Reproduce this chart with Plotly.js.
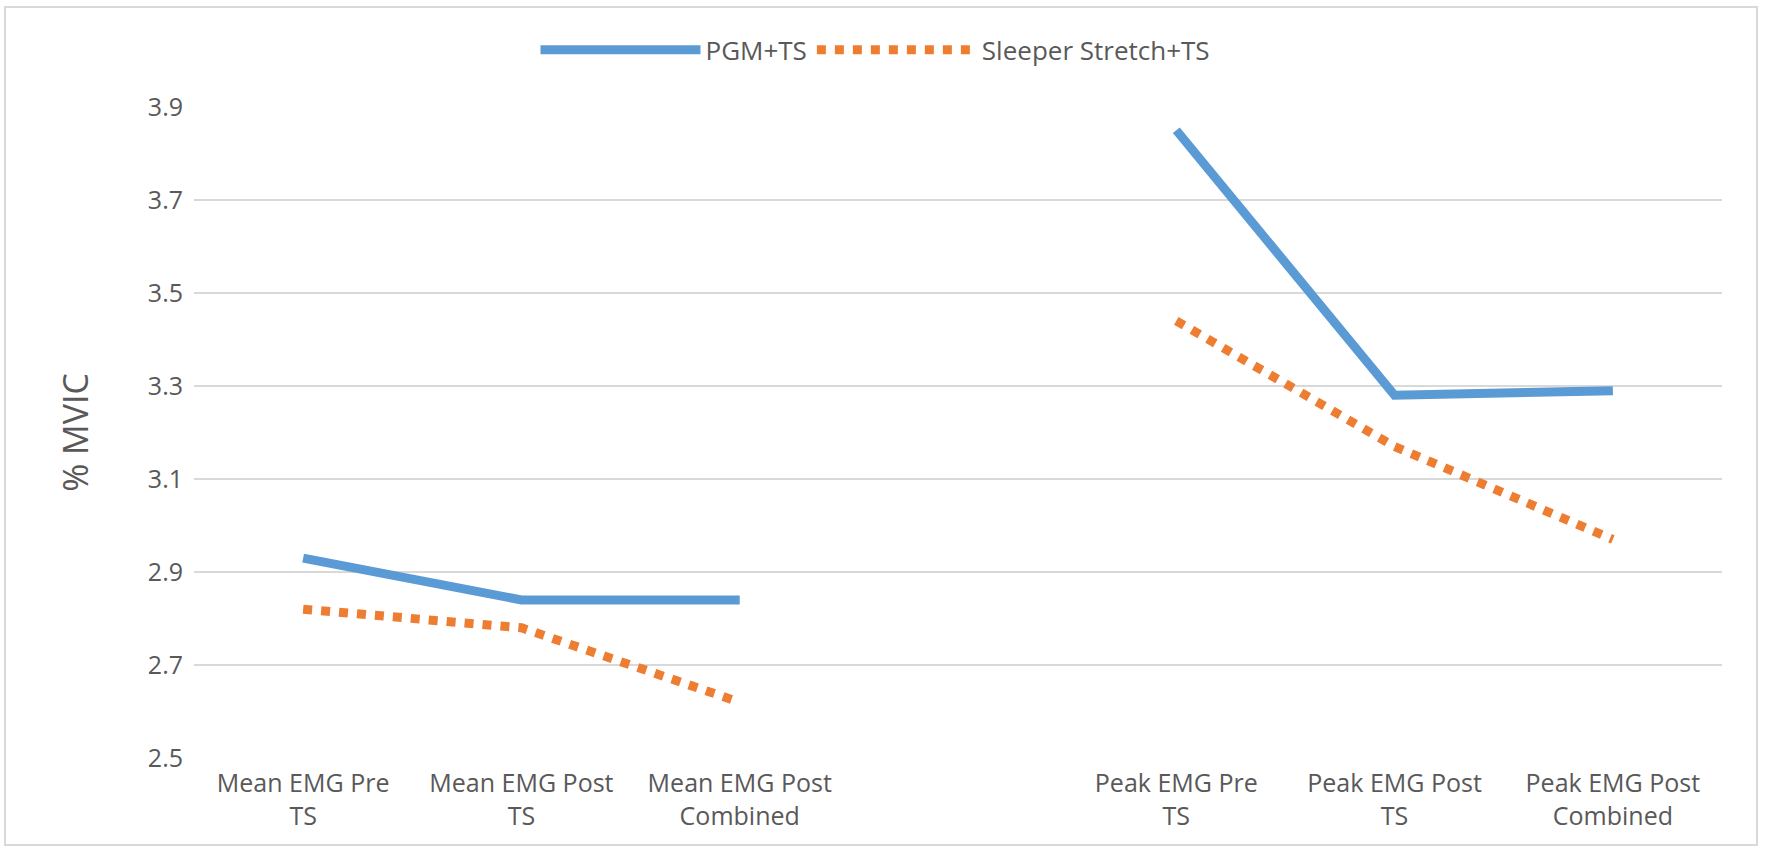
<!DOCTYPE html>
<html>
<head>
<meta charset="utf-8">
<script src="https://cdn.plot.ly/plotly-3.0.1.min.js"></script>
<style>
  html, body { margin: 0; padding: 0; background: #ffffff; }
  #chart { width: 1765px; height: 852px; }
</style>
</head>
<body>
<div id="chart"></div>
<script>
// categories (the blank one is the gap between the Mean and Peak groups)
const categories = [
    "Mean EMG Pre<br>TS",
    "Mean EMG Post<br>TS",
    "Mean EMG Post<br>Combined",
    " ",
    "Peak EMG Pre<br>TS",
    "Peak EMG Post<br>TS",
    "Peak EMG Post<br>Combined"
];
const pgmValues = [2.93, 2.84, 2.84, null, 3.85, 3.28, 3.29];
const sleeperValues = [2.82, 2.78, 2.62, null, 3.44, 3.17, 2.97];
const yTicks = [2.5, 2.7, 2.9, 3.1, 3.3, 3.5, 3.7, 3.9];

const textColor = "#595959";
const gridColor = "#d9d9d9";
const fontFamily = "'Open Sans', 'Noto Sans', sans-serif";

const tracePgm = {
    x: categories,
    y: pgmValues,
    name: "PGM+TS",
    type: "scatter",
    mode: "lines",
    connectgaps: false,
    line: { color: "#5b9bd5", width: 9 },
    hoverinfo: "skip"
};

const traceSleeper = {
    x: categories,
    y: sleeperValues,
    name: "Sleeper Stretch+TS",
    type: "scatter",
    mode: "lines",
    connectgaps: false,
    line: { color: "#ed7d31", width: 9, dash: "dot" },
    hoverinfo: "skip"
};

const layout = {
    width: 1765,
    height: 852,
    paper_bgcolor: "#ffffff",
    plot_bgcolor: "#ffffff",
    font: { family: fontFamily, color: textColor, size: 25 },
    margin: { l: 194, r: 43, t: 107, b: 94 },
    showlegend: true,
    legend: {
        orientation: "h",
        x: 0.446,
        xanchor: "center",
        y: 1.0876,
        yanchor: "middle",
        itemwidth: 160,
        font: { family: fontFamily, color: textColor, size: 26 },
        bgcolor: "rgba(0,0,0,0)"
    },
    xaxis: {
        type: "category",
        categoryorder: "array",
        categoryarray: categories,
        range: [-0.5, categories.length - 0.5],
        showgrid: false,
        zeroline: false,
        showline: false,
        ticks: "",
        ticklabelstandoff: 8,
        tickfont: { family: fontFamily, color: textColor, size: 25 },
        fixedrange: true
    },
    yaxis: {
        range: [2.5, 3.9],
        tickvals: yTicks,
        ticktext: yTicks.map(v => v.toFixed(1)),
        showgrid: true,
        gridcolor: gridColor,
        gridwidth: 2,
        zeroline: false,
        showline: false,
        ticks: "",
        ticklabelstandoff: 10,
        tickfont: { family: fontFamily, color: textColor, size: 25 },
        title: {
            text: "% MVIC",
            font: { family: fontFamily, color: textColor, size: 34 },
            standoff: 48
        },
        automargin: false,
        fixedrange: true
    },
    shapes: [
        {
            // chart area border
            type: "rect",
            xref: "paper",
            yref: "paper",
            x0: -0.1237,
            x1: 1.0229,
            y0: -0.1336,
            y1: 1.1536,
            line: { color: gridColor, width: 2 },
            fillcolor: "rgba(0,0,0,0)",
            layer: "below"
        }
    ]
};

Plotly.newPlot("chart", [tracePgm, traceSleeper], layout, { displayModeBar: false, staticPlot: true });
</script>
</body>
</html>
